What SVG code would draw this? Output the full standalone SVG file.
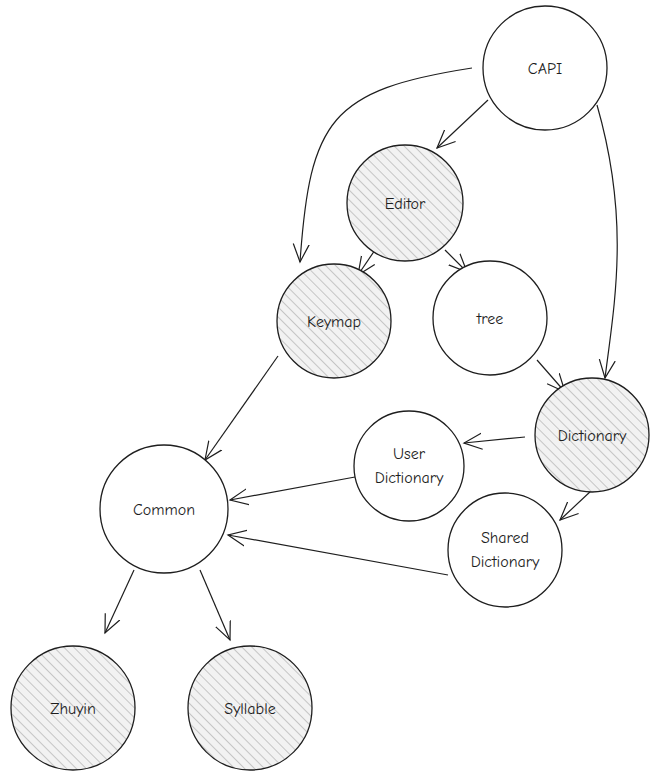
<svg xmlns="http://www.w3.org/2000/svg" width="658" height="779" viewBox="0 0 658 779">
<defs>
<pattern id="h" patternUnits="userSpaceOnUse" width="7" height="7" patternTransform="rotate(-45)">
<rect width="7" height="7" fill="#f2f2f2"/>
<line x1="0" y1="0" x2="0" y2="7" stroke="#999" stroke-width="1"/>
</pattern>
<marker id="a" viewBox="0 0 20 20" refX="18" refY="10" markerWidth="20" markerHeight="20" markerUnits="userSpaceOnUse" orient="auto">
<path d="M0 2 L18 10 L0 18" fill="none" stroke="#1e1e1e" stroke-width="1.2"/>
</marker>
</defs>
<style>
.n{stroke:#1e1e1e;stroke-width:1.3;fill:#fff}
.s{fill:url(#h)}
text{font-family:"Comic Neue","DejaVu Sans",sans-serif;font-size:16px;fill:#1e1e1e;text-anchor:middle}
.c path{fill:none;stroke:#1e1e1e;stroke-width:1.2;marker-end:url(#a)}
</style>
<rect width="658" height="779" fill="#fff"/>
<g class="c">
<path d="M472 68 C 330 90, 310 120, 300 262"/>
<path d="M488 100 L437 148"/>
<path d="M597 105 C 630 220, 615 300, 605 378"/>
<path d="M375 250 L358 275"/>
<path d="M445 250 L467 272"/>
<path d="M537 360 L565 392"/>
<path d="M525 437 L464 443"/>
<path d="M592 490 L560 520"/>
<path d="M278 356 L205 460"/>
<path d="M355 477 L230 500"/>
<path d="M448 575 L228 535"/>
<path d="M134 570 L105 633"/>
<path d="M200 570 L230 640"/>
</g>
<g id="capi"><circle class="n" cx="545" cy="68" r="62"/><text x="545" y="74">CAPI</text></g>
<g id="editor"><circle class="n s" cx="405" cy="203" r="58"/><text x="405" y="209">Editor</text></g>
<g id="keymap"><circle class="n s" cx="334" cy="321" r="57"/><text x="334" y="327">Keymap</text></g>
<g id="tree"><circle class="n" cx="490" cy="318" r="57"/><text x="490" y="324">tree</text></g>
<g id="dictionary"><circle class="n s" cx="592" cy="435" r="57"/><text x="592" y="441">Dictionary</text></g>
<g id="userdict"><circle class="n" cx="409" cy="466" r="55"/><text x="409" y="459">User</text><text x="409" y="483">Dictionary</text></g>
<g id="shareddict"><circle class="n" cx="505" cy="550" r="57"/><text x="505" y="543">Shared</text><text x="505" y="567">Dictionary</text></g>
<g id="common"><circle class="n" cx="164" cy="509" r="64"/><text x="164" y="515">Common</text></g>
<g id="zhuyin"><circle class="n s" cx="73" cy="708" r="62"/><text x="73" y="714">Zhuyin</text></g>
<g id="syllable"><circle class="n s" cx="250" cy="708" r="62"/><text x="250" y="714">Syllable</text></g>
</svg>
